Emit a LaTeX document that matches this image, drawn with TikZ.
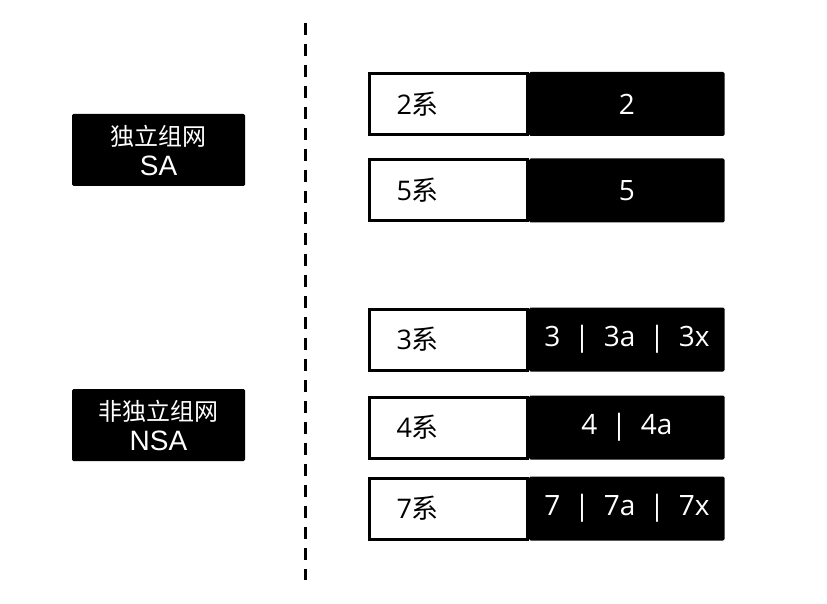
\documentclass[tikz,border=0pt]{standalone}
\usepackage{fontspec}
\setmainfont{Open Sans}
\newfontfamily\cjk{Noto Sans CJK SC}
\newfontfamily\arial{Liberation Sans}
\usetikzlibrary{positioning}
\newcommand{\vsep}{\hspace{.5em}|\hspace{.5em}}

\begin{document}
\begin{tikzpicture}[x=1pt,y=-1pt,
    tag/.style={fill=black,text=white,rounded corners=1.5pt,minimum width=173pt,minimum height=72pt,align=center,inner sep=0pt,font=\arial\fontsize{28}{30}\selectfont},
    series/.style={draw=black,line width=3pt,fill=white,anchor=west,minimum height=61pt,inner xsep=27pt,inner ysep=0pt,text width=104pt,align=left,font=\fontsize{27}{30}\selectfont},
    band/.style={fill=black,text=white,rounded corners=1.5pt,minimum width=195.5pt,minimum height=64pt,inner sep=0pt,font=\fontsize{28}{30}\selectfont}]
    \useasboundingbox (0,0) rectangle (827,604);
        % divider
        \coordinate (top) at (305,23);
        \coordinate (bottom) at (305,580);
        \draw [line width=3pt,dash pattern=on 12pt off 9pt] (top) -- (bottom);
        % left tags
        \node [tag] (sa) at (158.5,150) {{\cjk\fontsize{24}{30}\selectfont 独立组网}\\SA};
        \node [tag] (nsa) at (158.5,425) {{\cjk\fontsize{24}{30}\selectfont 非独立组网}\\NSA};
        % rows
        \node [band,anchor=west] (b2) at (529,104) {2};
        \node [band,anchor=west] (b5) at (529,190.5) {5};
        \node [band,anchor=west] (b3) at (529,339.5) {3\vsep 3a\vsep 3x};
        \node [band,anchor=west] (b4) at (529,427.5) {4\vsep 4a};
        \node [band,anchor=west] (b7) at (529,508.5) {7\vsep 7a\vsep 7x};
        \node [series,left=0pt of b2] (s2) {2{\cjk 系}};
        \node [series,left=0pt of b5] (s5) {5{\cjk 系}};
        \node [series,left=0pt of b3] (s3) {3{\cjk 系}};
        \node [series,left=0pt of b4] (s4) {4{\cjk 系}};
        \node [series,left=0pt of b7] (s7) {7{\cjk 系}};
    \end{tikzpicture}
\end{document}
